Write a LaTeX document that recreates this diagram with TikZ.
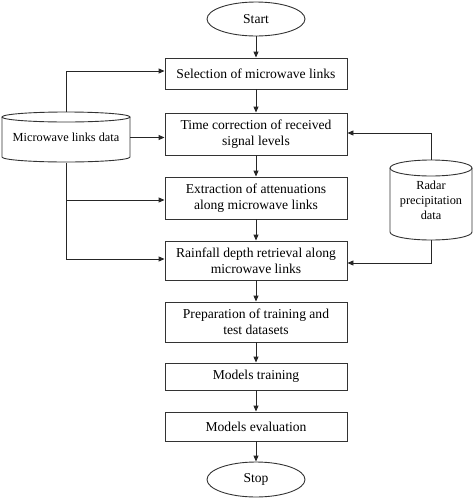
\documentclass[tikz,border=0pt]{standalone}
\usepackage{fontspec}
\setmainfont{Liberation Serif}
\usetikzlibrary{arrows.meta,shapes.geometric}
\begin{document}
\begin{tikzpicture}[x=1pt,y=-1pt,
  line width=0.9pt, draw=black!85,
  boxnode/.style={draw=black!80, line width=0.9pt, minimum width=182pt, inner sep=0pt, align=center, font=\fontsize{13.6}{16}\selectfont},
  termnode/.style={draw=black!80, line width=0.9pt, ellipse, minimum width=98pt, minimum height=34pt, inner sep=0pt, font=\fontsize{13.6}{16}\selectfont},
  cylnode/.style={inner sep=0pt, align=center, font=\fontsize{12.3}{15}\selectfont},
  arr/.style={-{Triangle[length=6pt,width=5pt]}, line width=0.9pt, draw=black!85},
  cylline/.style={draw=black!80, line width=0.9pt}
]
\useasboundingbox (0,0) rectangle (474,499);

\node[termnode] (start) at (256,19) {Start};
\node[boxnode, minimum height=31pt] (sel) at (256,73.5) {Selection of microwave links};
\node[boxnode, minimum height=42pt] (time) at (256,134) {Time correction of received\\signal levels};
\node[boxnode, minimum height=42pt] (ext) at (256,198) {Extraction of attenuations\\along microwave links};
\node[boxnode, minimum height=39pt] (rain) at (256,260.5) {Rainfall depth retrieval along\\microwave links};
\node[boxnode, minimum height=40pt] (prep) at (256,322) {Preparation of training and\\test datasets};
\node[boxnode, minimum height=27pt] (train) at (256,376.5) {Models training};
\node[boxnode, minimum height=29pt] (eval) at (256,426.5) {Models evaluation};
\node[termnode, minimum height=35pt] (stop) at (256,479.5) {Stop};

% Microwave links data cylinder
\node[cylnode, minimum width=128pt, minimum height=50pt] (mw) at (66,137.5) {Microwave links data};
\draw[cylline] (66,117) ellipse [x radius=64, y radius=5];
\draw[cylline] (2,117) -- (2,157) arc[start angle=180, end angle=360, x radius=64, y radius=-5] -- (130,117);

% Radar cylinder
\node[cylnode, minimum width=82pt, minimum height=80pt] (radar) at (431,200) {Radar\\precipitation\\data};
\draw[cylline] (431,168) ellipse [x radius=41, y radius=8];
\draw[cylline] (390,168) -- (390,232) arc[start angle=180, end angle=360, x radius=41, y radius=-8] -- (472,168);

% main flow
\draw[arr] (start) -- (sel);
\draw[arr] (sel) -- (time);
\draw[arr] (time) -- (ext);
\draw[arr] (ext) -- (rain);
\draw[arr] (rain) -- (prep);
\draw[arr] (prep) -- (train);
\draw[arr] (train) -- (eval);
\draw[arr] (eval) -- (stop);

% side inputs
\draw[arr] (mw.north) |- ([yshift=2.5pt]sel.west);
\draw[arr] (mw.east) -- (mw.east -| time.west);
\draw[arr] (mw.south) |- ([yshift=-2pt]ext.west);
\draw[arr] (mw.south) |- ([yshift=1.5pt]rain.west);
\draw[arr] (radar.north) |- ([yshift=1pt]time.east);
\draw[arr] (radar.south) |- ([yshift=-2.5pt]rain.east);
\end{tikzpicture}
\end{document}
